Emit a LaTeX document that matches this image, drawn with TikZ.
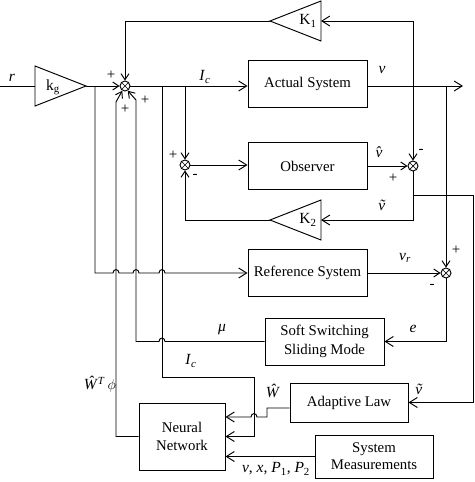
\documentclass[tikz,border=0pt]{standalone}
\usepackage{fontspec}
\setmainfont{Liberation Serif}
\usetikzlibrary{arrows.meta}
\begin{document}
\begin{tikzpicture}[x=1pt,y=-1pt, line width=0.95pt,
  >={Straight Barb[length=8pt,width=10pt]},
  sarr/.style={-{Straight Barb[length=6pt,width=8pt]}},
  box/.style={draw, minimum width=119pt, minimum height=47pt, inner sep=1pt, align=center, font=\fontsize{14.8}{18.5}\selectfont},
  sumj/.style={draw, circle, minimum size=10pt, inner sep=0pt,
    path picture={\draw[line width=0.7pt] (path picture bounding box.north west) -- (path picture bounding box.south east)
      (path picture bounding box.north east) -- (path picture bounding box.south west);}},
  lbl/.style={font=\fontsize{15.5}{17}\selectfont, inner sep=0pt},
  sgn/.style={font=\fontsize{15}{15}\selectfont, inner sep=0pt}
]
\useasboundingbox (0,0) rectangle (474,482);

% summing junctions
\node[sumj] (s1) at (125,86) {};
\node[sumj] (s2) at (185,165) {};
\node[sumj] (s3) at (413,166) {};
\node[sumj] (s4) at (446,273) {};

% blocks
\node[box] (act) at (307.5,84) {Actual System};
\node[box] (obs) at (307.5,166) {Observer};
\node[box] (ref) at (307.5,273) {Reference System};
\node[box] (ssm) at (324.5,341.5) {Soft Switching\\Sliding Mode};
\node[box, minimum width=118pt, minimum height=39pt] (adl) at (349,402.5) {Adaptive Law};
\node[box, minimum width=86pt, minimum height=67pt, font=\fontsize{14.8}{18}\selectfont] (nn) at (182,436.5) {Neural\\Network};
\node[box, minimum width=118pt, minimum height=43pt, font=\fontsize{14.8}{17}\selectfont] (sm) at (374,456.5) {System\\Measurements};

% gains
\draw (35,66) -- (86,86) -- (35,106) -- cycle;
\coordinate (kgin) at (35,86);
\coordinate (kgout) at (86,86);
\node[lbl] (kg) at (53,87) {k\textsubscript{g}};
\draw (321,1) -- (321,41) -- (270,21) -- cycle;
\coordinate (k1in) at (321,21);
\coordinate (k1out) at (270,21);
\node[lbl] (k1) at (308,21) {K\textsubscript{1}};
\draw (321,200) -- (321,240) -- (270,220) -- cycle;
\coordinate (k2in) at (321,220);
\coordinate (k2out) at (270,220);
\node[lbl] (k2) at (308,220) {K\textsubscript{2}};

% coordinates
\coordinate (r0) at (0,86);
\coordinate (j95) at (95,86);
\coordinate (b162) at (162,86);
\coordinate (b185) at (185,86);
\coordinate (j413) at (413,86);
\coordinate (j446) at (446,86);
\coordinate (vend) at (463,86);
\coordinate (t195) at (413,195);

% input path
\draw (r0) -- (kgin);
\draw[sarr] (kgout) -- (s1.west);
\draw[sarr] (k1out) -| (s1.north);
\draw[->] (s1.east) -- (s1.east -| act.west);
\draw[sarr] (b185) -- (s2.north);
\draw[->] (s2.east) -- (s2.east -| obs.west);
\draw[sarr] (k2out) -| (s2.south);

% plant output
\draw[->] (act.east |- s1) -- (vend);
\draw[->] (j413) |- (k1in);
\draw[sarr] (j413) -- (s3.north);
\draw[sarr] (j446) -- (s4.north);
\draw[sarr] (obs.east |- s3) -- (s3.west);
\draw[->] (s3.south) |- (k2in);
\draw[->] (t195) -- (473,195) |- (adl.east);

% reference path with hops
\draw[->] (j95) -- (95,273) -- (113,273) .. controls (113,268.5) and (119,268.5) .. (119,273)
  -- (133,273) .. controls (133,268.5) and (139,268.5) .. (139,273)
  -- (159,273) .. controls (159,268.5) and (165,268.5) .. (165,273) -- (ref.west);
\draw[sarr] (ref.east) -- (s4.west);
\draw[->] (s4.south) |- (ssm.east);

% sliding mode output mu
\draw[sarr] (ssm.west) -- (165,341.5) .. controls (165,337) and (159,337) .. (159,341.5)
  -- (136,341.5) -- (136,100) -- (s1.-60);
% neural network output
\draw[sarr] (nn.west) -| (116,102) -- (s1.-120);
% I_c to NN
\draw[->] (b162) |- (254,377) |- (nn.east);
% W hat
\draw[->] ([yshift=-5.5pt]adl.west) -- (267,408) -- (267,417) -- (257,417)
  .. controls (257,412.5) and (251,412.5) .. (251,417) -- ([yshift=19.5pt]nn.east);
% measurements
\draw[->] (sm.west) -- (nn.east |- sm.west);

% labels
\node[lbl] (lr) at (12,78) {\textit{r}};
\node[lbl] (lic1) at (205,77) {\textit{I}\textsubscript{\textit{c}}};
\node[lbl] (lv) at (382,70) {\textit{v}};
\node[lbl] (lvh) at (382,152) {\textit{\^{v}}};
\node[lbl] (lvt1) at (382,205) {\textit{\~{v}}};
\node[lbl] (lvr) at (405,258) {\textit{v}\textsubscript{\textit{r}}};
\node[lbl] (le) at (413,329) {\textit{e}};
\node[lbl] (lmu) at (222,330) {\textit{μ}};
\node[lbl] (lic2) at (191,361) {\textit{I}\textsubscript{\textit{c}}};
\node[lbl] (lwphi) at (100,384) {\textit{Ŵ}\textsuperscript{\textit{T}}\,$\phi$};
\node[lbl] (lw) at (273,391) {\textit{Ŵ}};
\node[lbl] (lvt2) at (419,389) {\textit{\~{v}}};
\node[lbl] (lmeas) at (276,469) {\textit{v}, \textit{x}, \textit{P}\textsubscript{1}, \textit{P}\textsubscript{2}};

% signs
\node[sgn] (p1) at (111,75) {+};
\node[sgn] (p2) at (125,109) {+};
\node[sgn] (p3) at (145,100) {+};
\node[sgn] (p4) at (173,155) {+};
\node[sgn] (m4) at (195,176) {-};
\node[sgn] (p5) at (393,178) {+};
\node[sgn] (m5) at (421,151) {-};
\node[sgn] (p6) at (456,250) {+};
\node[sgn] (m6) at (432,286) {-};
\end{tikzpicture}
\end{document}
